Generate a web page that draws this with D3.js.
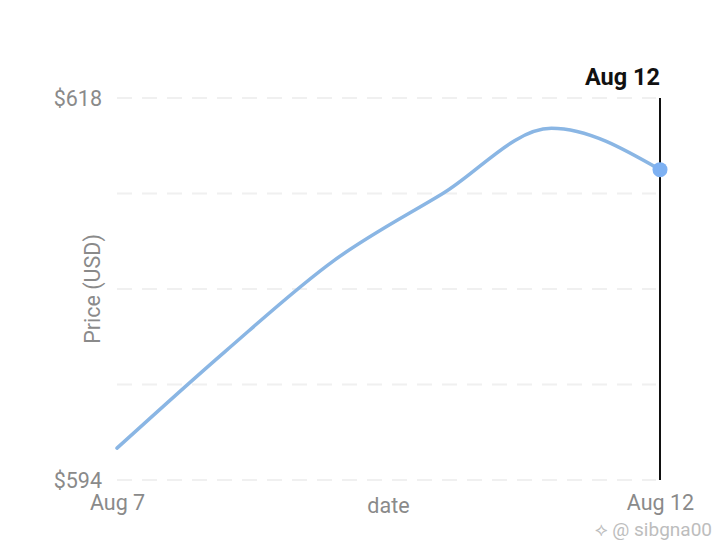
<!DOCTYPE html>
<html>
<head>
<meta charset="utf-8">
<script src="https://cdn.jsdelivr.net/npm/d3@7"></script>
<style>
  body { margin: 0; background: #fff; }
  svg { font-family: Roboto, "Noto Sans", sans-serif; }
</style>
</head>
<body>
<div id="chart"></div>
<script>
// data
const dates = ["2023-08-07", "2023-08-08", "2023-08-09", "2023-08-10", "2023-08-11", "2023-08-12"];
const prices = [596.0, 602.1, 607.8, 612.0, 616.1, 613.5];
const y_domain = [594, 618];
const y_grid = [594, 600, 606, 612, 618];
const y_tick_labels = [594, 618];
const x_tick_dates = ["2023-08-07", "2023-08-12"];
const x_tick_labels = ["Aug 7", "Aug 12"];
const focus_label = "Aug 12";

const width = 720, height = 540;
const margin = {top: 98, right: 60, bottom: 60, left: 117};

const parse = d3.utcParse("%Y-%m-%d");
const data = dates.map((d, i) => ({date: parse(d), value: prices[i]}));

const svg = d3.select("#chart").append("svg")
  .attr("width", width)
  .attr("height", height);

const x = d3.scaleUtc()
  .domain(d3.extent(data, d => d.date))
  .range([margin.left, width - margin.right]);

const y = d3.scaleLinear()
  .domain(y_domain)
  .range([height - margin.bottom, margin.top]);

// dashed grid
svg.append("g")
  .selectAll("line")
  .data(y_grid)
  .join("line")
    .attr("x1", margin.left)
    .attr("x2", width - margin.right - 4)
    .attr("y1", d => y(d))
    .attr("y2", d => y(d))
    .attr("stroke", "#f0f0f0")
    .attr("stroke-width", 2)
    .attr("stroke-dasharray", "15,10");

// y axis labels
svg.append("g")
  .attr("transform", `translate(${margin.left - 12},0)`)
  .call(d3.axisLeft(y).tickValues(y_tick_labels).tickFormat(d => "$" + d).tickSize(0))
  .call(g => g.select(".domain").remove())
  .call(g => g.selectAll("text")
    .attr("fill", "#8a8a8a")
    .attr("font-size", 21.5)
    .attr("font-family", "Roboto, sans-serif")
    .attr("dy", "0.36em"));

// x axis labels
svg.append("g")
  .attr("transform", `translate(0,${height - margin.bottom + 12})`)
  .call(d3.axisBottom(x)
    .tickValues(x_tick_dates.map(parse))
    .tickFormat((d, i) => x_tick_labels[i])
    .tickSize(0))
  .call(g => g.select(".domain").remove())
  .call(g => g.selectAll("text")
    .attr("fill", "#8a8a8a")
    .attr("font-size", 21.5)
    .attr("font-family", "Roboto, sans-serif")
    .attr("dy", "0.71em"));

// axis titles
svg.append("text")
  .attr("x", (margin.left + width - margin.right) / 2)
  .attr("y", 513)
  .attr("text-anchor", "middle")
  .attr("fill", "#8a8a8a")
  .attr("font-size", 21.5)
  .text("date");

svg.append("text")
  .attr("transform", `translate(100,${(margin.top + height - margin.bottom) / 2}) rotate(-90)`)
  .attr("text-anchor", "middle")
  .attr("fill", "#8a8a8a")
  .attr("font-size", 21.5)
  .text("Price (USD)");

// price line
const line = d3.line()
  .x(d => x(d.date))
  .y(d => y(d.value))
  .curve(d3.curveMonotoneX);

svg.append("path")
  .datum(data)
  .attr("fill", "none")
  .attr("stroke", "#8ab6e4")
  .attr("stroke-width", 3.5)
  .attr("stroke-linecap", "round")
  .attr("d", line);

// focus on last point
const last = data[data.length - 1];

svg.append("line")
  .attr("x1", x(last.date))
  .attr("x2", x(last.date))
  .attr("y1", y(y_domain[1]))
  .attr("y2", y(y_domain[0]))
  .attr("stroke", "#111")
  .attr("stroke-width", 2);

svg.append("circle")
  .attr("cx", x(last.date))
  .attr("cy", y(last.value))
  .attr("r", 7.5)
  .attr("fill", "#7eb1f2");

svg.append("text")
  .attr("x", x(last.date))
  .attr("y", 85)
  .attr("text-anchor", "end")
  .attr("font-size", 23.5)
  .attr("font-weight", "bold")
  .attr("fill", "#111")
  .text(focus_label);

// watermark
svg.append("text")
  .attr("x", 712)
  .attr("y", 536)
  .attr("text-anchor", "end")
  .attr("font-size", 19)
  .attr("fill", "#bdbdbd")
  .attr("stroke", "#fff")
  .attr("stroke-width", 3)
  .attr("paint-order", "stroke")
  .text("⟡ @ sibgna00");
</script>
</body>
</html>
